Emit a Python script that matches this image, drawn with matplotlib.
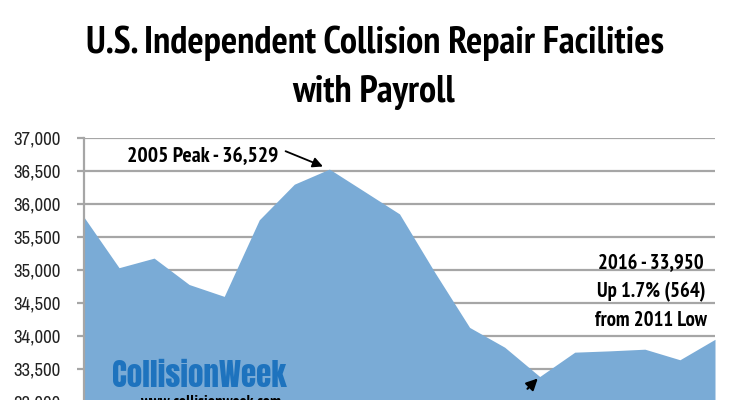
import matplotlib
matplotlib.use("Agg")
import matplotlib.pyplot as plt
from matplotlib import font_manager as fm
from matplotlib.ticker import FuncFormatter

years = list(range(1998, 2017))
facilities = [35800, 35035, 35180, 34780, 34600, 35760, 36300, 36529, 36190,
              35850, 34970, 34130, 33830, 33386, 33755, 33775, 33800, 33640, 33950]
yticks = [33000, 33500, 34000, 34500, 35000, 35500, 36000, 36500, 37000]

title_lines = ["U.S. Independent Collision Repair Facilities", "with Payroll"]
peak_label = "2005 Peak - 36,529"
end_lines = ["2016 - 33,950", "Up 1.7% (564)", "from 2011 Low"]
brand = "CollisionWeek"
brand_url = "www.collisionweek.com"


def _w(v):
    if isinstance(v, str):
        return {"bold": 700, "heavy": 900, "black": 900, "normal": 400}.get(v, 400)
    return v


_avail = {}
for f in fm.fontManager.ttflist:
    _avail.setdefault(f.name, set()).add(_w(f.weight))


def pick(cands, minw=700):
    for n in cands:
        if n in _avail and max(_avail[n]) >= minw:
            return n
    return "DejaVu Sans"


BOLD = pick(["PT Sans Narrow", "Roboto Condensed", "Fira Sans Condensed",
             "Open Sans Condensed", "Archivo Narrow", "Encode Sans Condensed",
             "Barlow Semi Condensed", "Saira SemiCondensed"])
BRAND = pick(["Anton", "Oswald", "Antonio", "Fjalla One", "League Gothic"], 400)
REG = ["Archivo Narrow", "DejaVu Sans"]
plt.rcParams['font.family'] = REG

W, H = 740, 400
fig = plt.figure(figsize=(W / 100, H / 100), dpi=100)
top_px, bot_px = 138, 138 + 9 * 33
ax = fig.add_axes([84 / W, 1 - bot_px / H, (715 - 84) / W, (bot_px - top_px) / H])

ax.fill_between(years, facilities, 32500, color="#7aabd6", lw=0, zorder=2)
ax.set_xlim(years[0], years[-1])
ax.set_ylim(32500, 37000)
ax.set_yticks(yticks)
ax.yaxis.set_major_formatter(FuncFormatter(lambda v, p: f"{int(v):,}"))
ax.grid(axis="y", color="#a6a6a6", lw=1.6, zorder=1)
ax.set_xticks([])
for s in ["top", "right", "bottom"]:
    ax.spines[s].set_visible(False)
ax.spines["left"].set_color("#a6a6a6")
ax.spines["left"].set_linewidth(1.6)
ax.spines["left"].set_zorder(3)
ax.tick_params(axis="y", direction="out", length=5, width=1.6, color="#a6a6a6",
               labelsize=13.5, labelcolor="#222222", pad=12)

renderer = fig.canvas.get_renderer()


def fit(t, width_px):
    w = t.get_window_extent(renderer).width
    t.set_fontsize(t.get_fontsize() * width_px / w)
    return t.get_fontsize()


def px(x, y):
    return x / W, 1 - y / H


t1 = fig.text(*px(375, 53), title_lines[0], ha="center", va="baseline",
              fontsize=24, fontweight="bold", family=BOLD)
size = fit(t1, 580)
fig.text(*px(374, 102), title_lines[1], ha="center", va="baseline",
         fontsize=size, fontweight="bold", family=BOLD)

tp = fig.text(*px(278, 162), peak_label, ha="right", va="baseline",
              fontsize=14, fontweight="bold", family=BOLD, zorder=5)
fit(tp, 152)
ax.annotate("", xy=(2005, 36529), xytext=(2003.75, 36800),
            arrowprops=dict(arrowstyle="-|>", color="black", lw=1.3,
                            mutation_scale=15, shrinkA=0, shrinkB=5), zorder=5)

sz = None
for line, yb in zip(end_lines, [269, 297, 326]):
    t = fig.text(*px(651, yb), line, ha="center", va="baseline",
                 fontsize=14 if sz is None else sz, fontweight="bold",
                 family=BOLD, zorder=5)
    if sz is None:
        sz = fit(t, 106)

ax.annotate("", xy=(2011, 33386), xytext=(2010.65, 33200),
            arrowprops=dict(arrowstyle="-|>", color="black", lw=1.5,
                            mutation_scale=17, shrinkA=0, shrinkB=2), zorder=5)

tb = fig.text(*px(112, 387), brand, ha="left", va="baseline", fontsize=25,
              fontweight="bold", color="#1e73be", family=BRAND, zorder=5)
fit(tb, 175)
fig.text(*px(140, 407), brand_url, ha="left", va="baseline",
         fontsize=12, fontweight="bold", color="black", family=BOLD, zorder=5)

fig.savefig("out.png", dpi=100)
